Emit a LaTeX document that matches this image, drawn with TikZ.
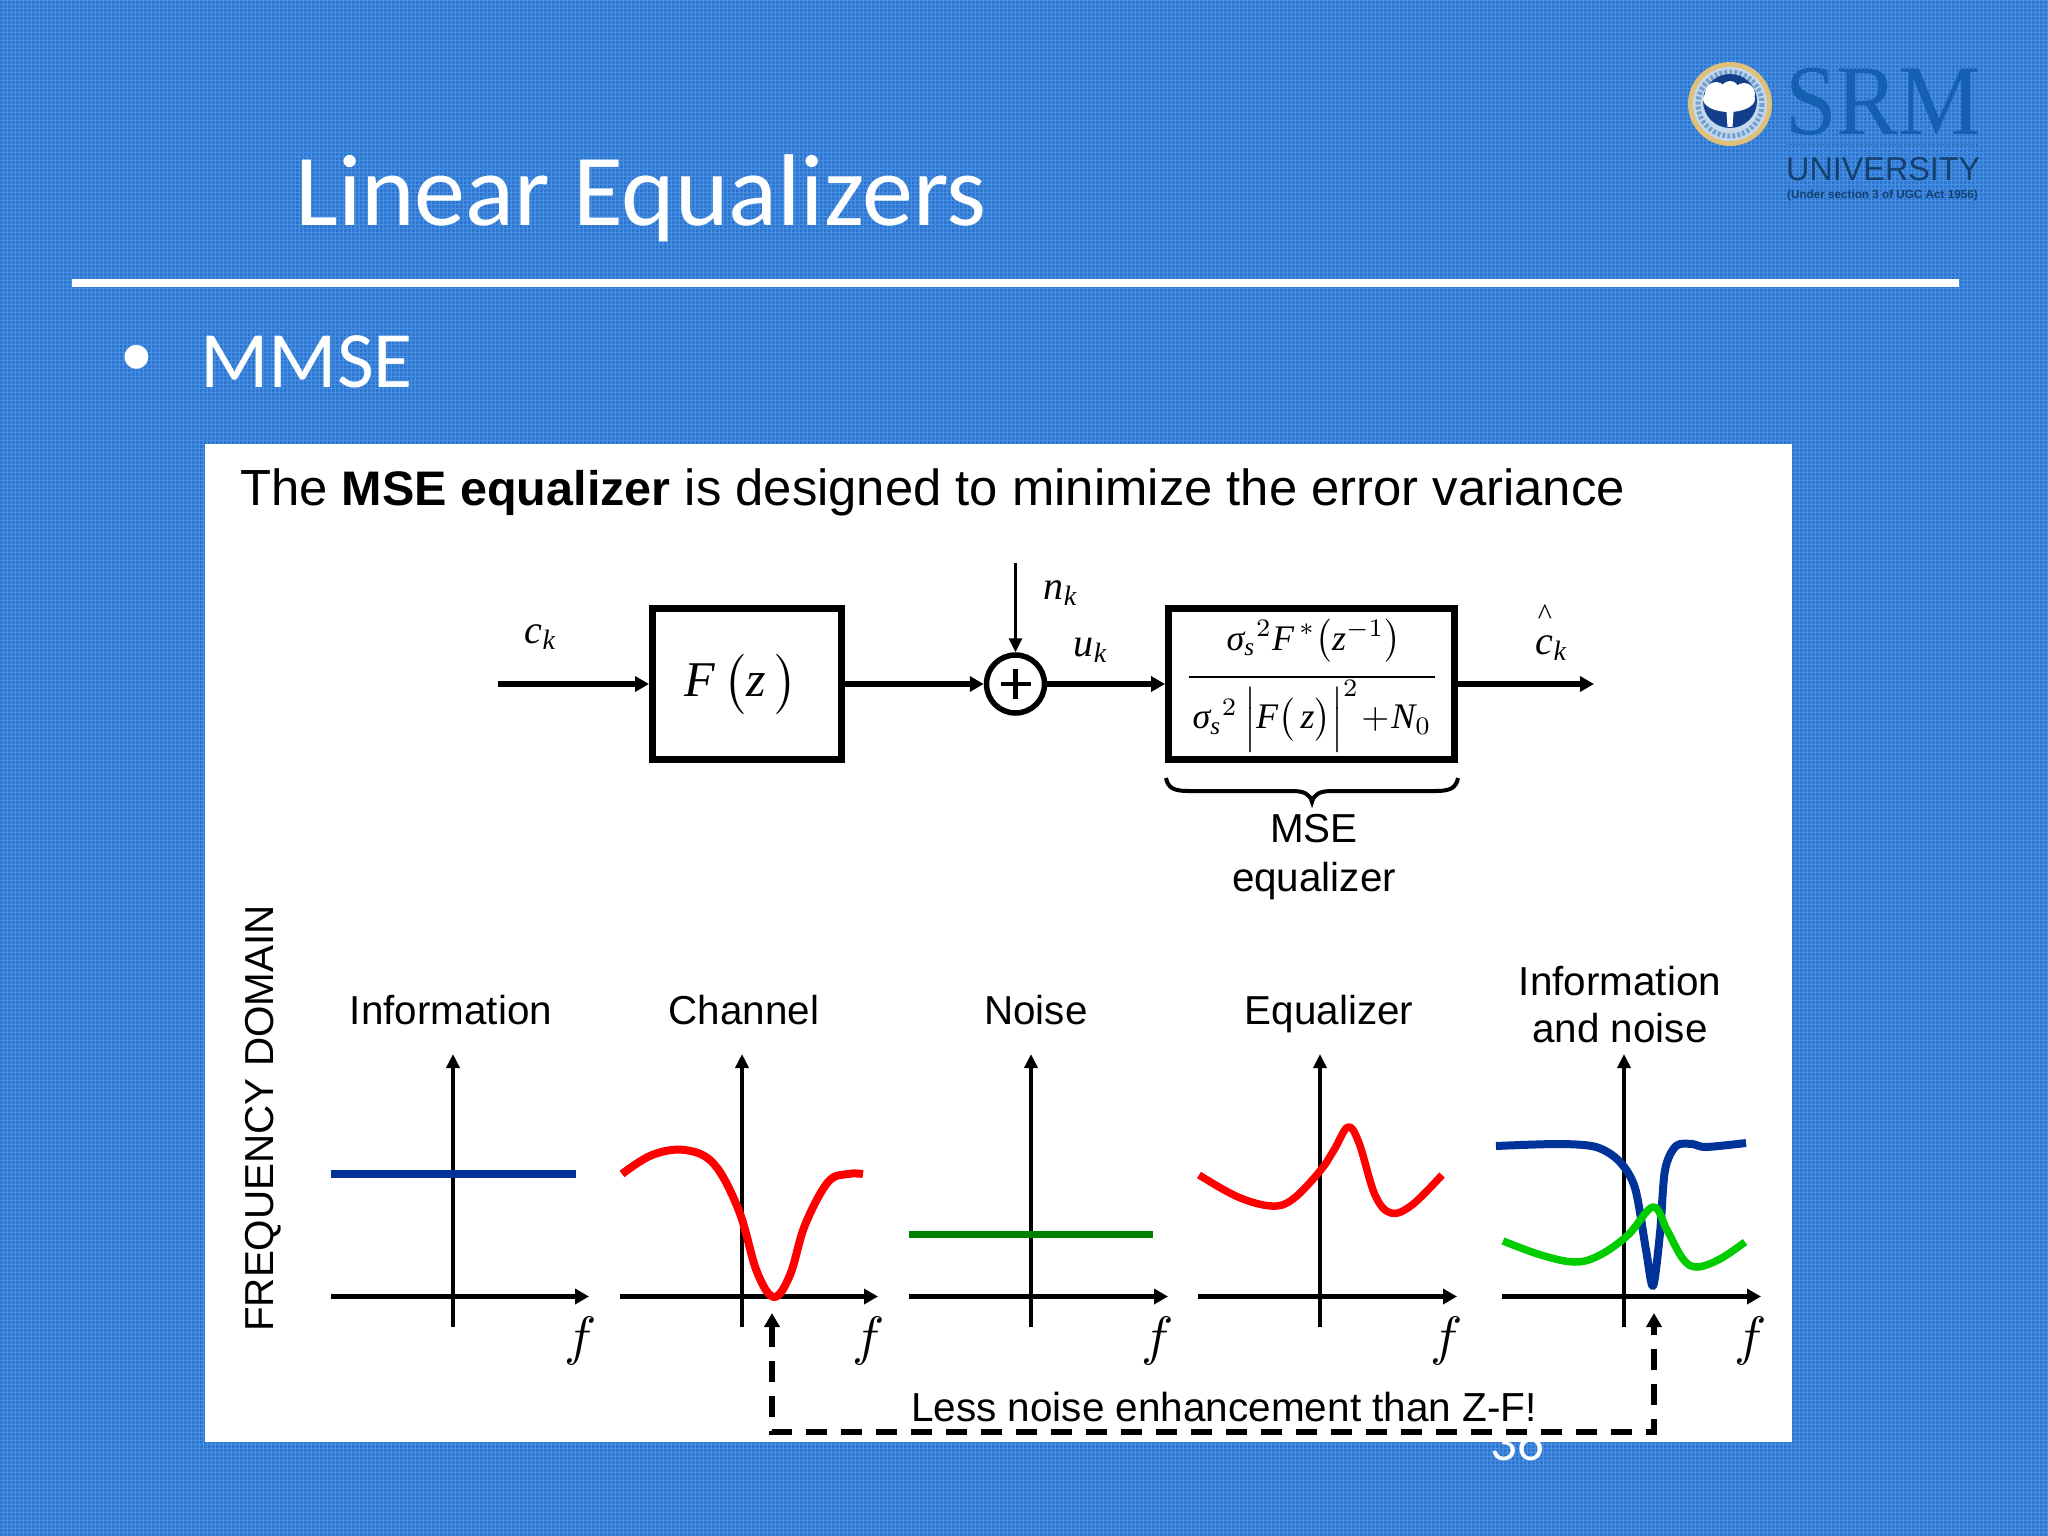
\documentclass[tikz,border=0pt]{standalone}
\usepackage{amsmath}
\usepackage{fontspec}
\setmainfont{Liberation Sans}
\newfontfamily\carlitofont{Carlito}
\newfontfamily\timesfont{Liberation Serif}
\newcommand{\sx}[1]{\fontsize{#1}{#1}\selectfont}
\newcommand{\ti}[1]{\text{\timesfont\itshape #1}}
\usetikzlibrary{arrows.meta,calc,patterns}
\pgfdeclarepatternformonly{slidegrid}{\pgfqpoint{0pt}{0pt}}{\pgfqpoint{2.6pt}{2.6pt}}{\pgfqpoint{4pt}{4pt}}{%
  \pgfpathrectangle{\pgfqpoint{0pt}{0pt}}{\pgfqpoint{2.6pt}{2.6pt}}\pgfusepath{fill}}
\definecolor{slidebg}{HTML}{4690E4}
\definecolor{slidegridc}{HTML}{2C74CE}
\definecolor{infoblue}{HTML}{003399}
\definecolor{noisegreen}{HTML}{008000}
\definecolor{brightgreen}{HTML}{00CC00}
\definecolor{srmblue}{HTML}{1560B0}
\definecolor{srmnavy}{HTML}{14406F}
\definecolor{srmgold}{HTML}{E0C078}
\definecolor{srmdisc}{HTML}{123E8C}
\tikzset{
  x=1pt,y=-1pt,
  slidetxt/.style={white,font=\carlitofont\sx{#1},anchor=base west,inner sep=0},
  lab/.style={black,font=\sx{40.4},anchor=base,inner sep=0,align=center},
  mathlab/.style={black,inner sep=0,scale=#1},
  flab/.style={black,anchor=base,inner sep=0,scale=5.4},
  blockbox/.style={draw=black,line width=7pt,fill=white,inner sep=0,minimum width=#1,minimum height=151pt},
  sumnode/.style={draw=black,line width=5.5pt,circle,fill=white,inner sep=0,minimum size=58pt},
  mainarrow/.style={black,line width=5.5pt,-{Triangle[length=14pt,width=15pt]}},
  thinarrow/.style={black,line width=3pt,-{Triangle[length=14pt,width=13pt]}},
  axisline/.style={black,line width=4.5pt,-{Triangle[length=14pt,width=15pt]}},
  axisstem/.style={black,line width=3.5pt,-{Triangle[length=14pt,width=13pt]}},
  curve/.style={line width=#1,line join=round},
  notearrow/.style={black,line width=6pt,dash pattern=on 21pt off 14pt,{Triangle[length=14pt,width=15pt]}-{Triangle[length=14pt,width=15pt]}},
}
\begin{document}
\begin{tikzpicture}
\useasboundingbox (0,0) rectangle (2048,1536);
\fill[slidebg] (0,0) rectangle (2048,1536);
\fill[pattern=slidegrid,pattern color=slidegridc] (0,0) rectangle (2048,1536);
% slide number sits behind the panel
\node[slidetxt=53] (pageno) at (1490,1460) {36};
% title area
\node[slidetxt=102] (title) at (295,225) {Linear Equalizers};
\fill[white] (72,279) rectangle (1959,287);
\node[white,font=\sx{88},inner sep=0] (bullet) at (137,366) {•};
\node[slidetxt=80] (mmse) at (200,387) {MMSE};
% logo
\fill[srmgold] (1730,104) circle[radius=42];
\fill[white!75!srmblue] (1730,104) circle[radius=37];
\draw[srmblue!60!white,line width=5pt,dash pattern=on 3pt off 2pt] (1730,104) circle[radius=32];
\fill[srmdisc] (1730,101) circle[radius=27];
\fill[white] (1716,93) circle[radius=11] (1730,90) circle[radius=9] (1744,94) circle[radius=11] (1729,99) ellipse[x radius=26,y radius=13];
\fill[white] (1726,105) -- (1734,105) -- (1732.5,127) -- (1727.5,127) -- cycle;
\node[srmblue,font=\timesfont\sx{100},anchor=base west,inner sep=0,xscale=0.93] (srm) at (1785,135) {SRM};
\draw[srmnavy!70!slidebg,line width=1pt,dotted] (1787,145) -- (1978,145);
\node[srmnavy,font=\sx{33},anchor=base west,inner sep=0,xscale=0.98] (univ) at (1786,180) {UNIVERSITY};
\node[srmnavy,font=\bfseries\sx{11.7},anchor=base west,inner sep=0] (under) at (1787,198) {(Under section 3 of UGC Act 1956)};
% panel
\fill[white] (205,444) rectangle (1792,1442);
\node[black,font=\sx{50.8},anchor=base west,inner sep=0] (head) at (240,505) {The {\sx{48.5}\bfseries MSE equalizer} is designed to minimize the error variance};
% block diagram
\node[blockbox=189pt] (fbox) at (747,684) {};
\node[mathlab=5] (ftext) at (741,684) {$\ti{F}\,\bigl(\ti{z}\,\bigr)$};
\node[sumnode] (sum) at (1015.5,684) {};
\draw[black,line width=4.5pt] ($(sum.center)+(-15,0)$) -- ($(sum.center)+(15,0)$) ($(sum.center)+(0,-15)$) -- ($(sum.center)+(0,15)$);
\node[blockbox=286pt] (eqbox) at (1311.5,684) {};
\coordinate (inp) at (498,684);
\coordinate (outp) at (1594,684);
\coordinate (noisein) at (1015.5,563);
\draw[mainarrow] (inp) -- (fbox.west);
\draw[mainarrow] (fbox.east) -- (sum.west);
\draw[mainarrow] (sum.east) -- (eqbox.west);
\draw[mainarrow] (eqbox.east) -- (outp);
\draw[thinarrow] (noisein) -- (sum.north);
\node[mathlab=4,anchor=base] (ck) at (541,643) {$\ti{c}_{\ti{k}}$};
\node[mathlab=4,anchor=base] (nk) at (1061,599) {$\ti{n}_{\ti{k}}$};
\node[mathlab=4,anchor=base] (uk) at (1091,656) {$\ti{u}_{\ti{k}}$};
\node[mathlab=4,anchor=base] (chat) at (1552,654) {$\ti{c}_{\ti{k}}$};
\node[black,font=\timesfont\sx{30},inner sep=0] (hatmark) at (1545,615) {\textasciicircum};
\node[mathlab=3.6] (num) at (1314,641) {$\ti{σ}_{\ti{s}}{}^{2}\ti{F}^{\,*}\bigl(\ti{z}^{-1}\bigr)$};
\node[mathlab=3.6] (den) at (1312,716) {$\ti{σ}_{\ti{s}}{}^{2}\,\Bigl|\ti{F}\bigl(\,\ti{z}\bigr)\Bigr|^{2}\!+\!\ti{N}_{0}$};
\draw[black,line width=2.5pt] (1189,677) -- (1435,677);
% brace
\coordinate (bl) at (1166,778);
\coordinate (br) at (1458,778);
\coordinate (bm) at (1312,802);
\draw[black,line width=4pt] (bl) .. controls (1168,788) and (1174,791) .. (1188,791) -- (1292,791) .. controls (1304,791) and (1310,794) .. (bm) .. controls (1314,794) and (1320,791) .. (1332,791) -- (1436,791) .. controls (1450,791) and (1456,788) .. (br);
\node[lab] (msel) at (1314,842) {MSE};
\node[lab] (eql) at (1314,891) {equalizer};
% frequency domain
\node[lab,anchor=base west,rotate=90] (fd) at (273,1332) {FREQUENCY DOMAIN};
\node[lab] (t1) at (451,1024) {Information};
\node[lab] (t2) at (744,1024) {Channel};
\node[lab] (t3) at (1036,1024) {Noise};
\node[lab] (t4) at (1329,1024) {Equalizer};
\node[lab] (t5a) at (1620,995) {Information};
\node[lab] (t5b) at (1620,1042) {and noise};
% axes
\foreach \vx/\hl/\hr in {453/331/589, 742/620/878, 1031/909/1168, 1320/1198/1457, 1624/1502/1761}{
  \draw[axisstem] (\vx,1327) -- (\vx,1054);
  \draw[axisline] (\hl,1296.5) -- (\hr,1296.5);
}
\node[flab] (f1) at (581,1354) {$f$};
\node[flab] (f2) at (869,1354) {$f$};
\node[flab] (f3) at (1158,1354) {$f$};
\node[flab] (f4) at (1447,1354) {$f$};
\node[flab] (f5) at (1751,1354) {$f$};
% curves
\draw[infoblue,curve=8pt] (331,1174) -- (576,1174);
\draw[noisegreen,curve=6.5pt] (909,1234.5) -- (1153,1234.5);
\draw[red,curve=8pt] plot[smooth,tension=0.6] coordinates {(622,1174) (652,1155) (685,1150) (714,1164) (739,1211) (757,1272) (774,1297) (790,1275) (805,1225) (828,1182) (848,1174) (863,1174)};
\draw[red,curve=7.5pt] plot[smooth,tension=0.6] coordinates {(1199,1175) (1238,1197) (1272,1206) (1293,1199) (1320,1171) (1334,1150) (1348,1127) (1359,1143) (1375,1195) (1391,1213) (1412,1205) (1442,1175)};
\draw[infoblue,curve=8pt] plot[smooth,tension=0.5] coordinates {(1496,1146) (1559,1144) (1596,1147) (1619,1161) (1635,1188) (1646,1250) (1653,1286) (1660,1233) (1665,1170) (1676,1146) (1692,1144) (1706,1147) (1746,1143)};
\draw[brightgreen,curve=7.5pt] plot[smooth,tension=0.6] coordinates {(1503,1241) (1541,1255) (1575,1262) (1600,1255) (1628,1235) (1653,1207) (1667,1230) (1683,1259) (1697,1267) (1720,1259) (1745,1242)};
% note
\coordinate (na) at (772,1313);
\coordinate (nb) at (1654,1313);
\draw[notearrow] (na) -- (772,1432) -- (1654,1432) -- (nb);
\node[lab,font=\sx{40.5}] (note) at (1224,1421) {Less noise enhancement than Z-F!};
\end{tikzpicture}
\end{document}
